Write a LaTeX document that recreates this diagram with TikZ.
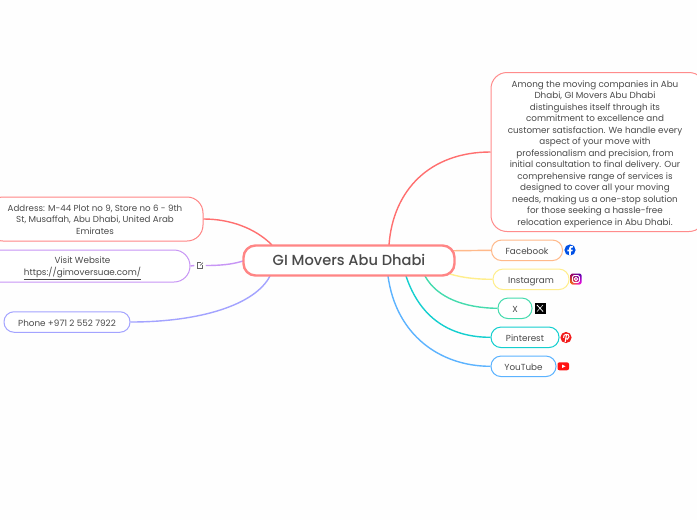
\documentclass[tikz,border=0pt]{standalone}
\usepackage{fontspec}
\setmainfont{Poppins}
\newfontfamily\titlefont{Poppins Medium}
\usetikzlibrary{calc,shadings}
\definecolor{txt}{HTML}{4A4A4A}
\definecolor{cred}{HTML}{FF6F6F}
\definecolor{corange}{HTML}{FFB98A}
\definecolor{cyellow}{HTML}{FFEE8C}
\definecolor{cgreen}{HTML}{45DBAE}
\definecolor{cteal}{HTML}{14CFCF}
\definecolor{cblue}{HTML}{5CB3FF}
\definecolor{cpurple}{HTML}{C795F5}
\definecolor{cviolet}{HTML}{A3A3FF}
\tikzset{
  topic/.style={draw,rounded corners=10pt,line width=1pt,fill=white,text=txt,align=center,inner sep=0pt,text height=8.4pt,text depth=0pt,font=\fontsize{8.8}{14.1}\selectfont},
  block/.style={draw,line width=1pt,fill=white,inner sep=0pt,rounded corners=16pt},
  blocktext/.style={text=txt,align=center,inner sep=0pt},
  rootnode/.style={draw=cred!85,rounded corners=12pt,line width=2.4pt,fill=white,text=txt,inner sep=0pt,minimum width=211pt,minimum height=30pt,font=\fontsize{14.6}{15}\titlefont},
  link/.style={line width=1.4pt},
  icon/.style={inner sep=0pt,minimum size=5.5pt,outer sep=3pt}
}
\begin{document}
\begin{tikzpicture}[x=1pt,y=-1pt]
\useasboundingbox (0,0) rectangle (697,520);
\fill[white!99.6!black] (0,0) rectangle (697,520);
\clip (0,0) rectangle (697,520);
% connector free ends on the central topic
\coordinate (mtl) at (389,245);
\coordinate (mbl) at (388,276);
\coordinate (mbp) at (406,276);
\coordinate (mbx) at (425,276);
\coordinate (mri) at (450,274);
\coordinate (mrf) at (453,250.7);
\coordinate (mta) at (272,245);
\coordinate (mlv) at (243,261);
\coordinate (mbh) at (270,276);
% nodes
\node[block,draw=cred!80,minimum width=214pt,minimum height=159pt] (about) at (598,152) {};
\node[blocktext,font=\fontsize{8.8}{11.5}\selectfont] at (595,154) {Among the moving companies in Abu\\Dhabi, GI Movers Abu Dhabi\\distinguishes itself through its\\commitment to excellence and\\customer satisfaction. We handle every\\aspect of your move with\\professionalism and precision, from\\initial consultation to final delivery. Our\\comprehensive range of services is\\designed to cover all your moving\\needs, making us a one-stop solution\\for those seeking a hassle-free\\relocation experience in Abu Dhabi.};
\node[topic,draw=corange,minimum width=71pt,minimum height=20.5pt] (fb) at (527,250.3) {Facebook};
\node[topic,draw=cyellow,minimum width=76pt,minimum height=20.5pt] (ig) at (531,279.3) {Instagram};
\node[topic,draw=cgreen,minimum width=34pt,minimum height=20.5pt] (xx) at (515,308.3) {X};
\node[topic,draw=cteal,minimum width=68pt,minimum height=20.5pt] (pin) at (525,337.3) {Pinterest};
\node[topic,draw=cblue,minimum width=65pt,minimum height=20.5pt] (yt) at (523.5,366.3) {YouTube};
\node[block,draw=cred!85,minimum width=216pt,minimum height=44pt] (addr) at (95,219) {};
\node[blocktext,font=\fontsize{8.7}{11.5}\selectfont] at (95,219.7) {Address: M-44 Plot no 9, Store no 6 - 9th\\St, Musaffah, Abu Dhabi, United Arab\\Emirates};
\node[block,draw=cpurple,minimum width=216pt,minimum height=32pt] (web) at (82,266) {};
\node[blocktext,font=\fontsize{8.8}{11.8}\selectfont] at (82.5,268) {Visit Website\\\underline{https://gimoversuae.com/}};
\node[topic,draw=cviolet,minimum width=126pt,minimum height=20.5pt] (ph) at (67,322) {Phone +971 2 552 7922};
% link icon
\node[icon,draw=txt!85,line width=.8pt] (lnk) at (200,265.5) {};
\fill[white] (201,262) rectangle (204,265);
\draw[txt!85,line width=.7pt] (200.2,265.3) -- (202.9,262.6);
% connectors
\draw[link,cred] (mtl) .. controls (393,190) and (430,152) .. (about.west);
\draw[link,corange] (mrf) .. controls (470,250.7) and (480,250.3) .. (fb.west);
\draw[link,cyellow] (mri) .. controls (463,278) and (478,279.3) .. (ig.west);
\draw[link,cgreen] (mbx) .. controls (437,298) and (465,308) .. (xx.west);
\draw[link,cteal] (mbp) .. controls (420,318) and (450,337.3) .. (pin.west);
\draw[link,cblue] (mbl) .. controls (396,335) and (440,366.3) .. (yt.west);
\draw[link,cred] (mta) .. controls (255,228) and (230,219) .. (addr.east);
\draw[link,cpurple] (mlv) .. controls (232,264.5) and (220,265.5) .. (lnk.east);
\draw[link,cpurple] (lnk.west) -- (web.east);
\draw[link,cviolet] (mbh) .. controls (255,305) and (200,322) .. (ph.east);
\node[rootnode] (main) at (349,260.5) {\raisebox{.5pt}{GI Movers Abu Dhabi}};
% social icons
\fill[blue!65!cyan!90!black] (570,250) circle (5.6);
\fill[white] (570.9,255.6) -- (570.9,251.4) -- (572.4,251.4) -- (572.7,249.6) -- (570.9,249.6) -- (570.9,248.4) .. controls (570.9,247.8) and (571.3,247.5) .. (571.9,247.5) -- (572.8,247.5) -- (572.8,246) .. controls (570.5,245.5) and (569,246.3) .. (569,248.3) -- (569,249.6) -- (567.4,249.6) -- (567.4,251.4) -- (569,251.4) -- (569,255.6) -- cycle;
\shade[rounded corners=2pt,lower left=orange,upper left=violet!80!red,upper right=violet!60!blue,lower right=magenta] (570.5,273.5) rectangle (581.5,284.5);
\draw[white,line width=.8pt,rounded corners=1.5pt] (572.5,275.5) rectangle (579.5,282.5);
\draw[white,line width=.8pt] (576,279) circle (1.8);
\fill[black] (534.5,302.5) rectangle (545.5,313.5);
\draw[white,line width=.8pt] (537,305) -- (543,311.5);
\draw[white,line width=.5pt] (543,305) -- (537,311.5);
\fill[red!85!pink!95!black] (566,337.5) circle (5.6);
\draw[white,line width=1.1pt] (565.2,342) -- (566.4,335);
\draw[white,line width=1pt] (563.6,337.8) .. controls (562.4,333.8) and (569.6,332.8) .. (569,336.8) .. controls (568.8,339.5) and (566,339.8) .. (565.6,338.6);
\fill[red!90!pink,rounded corners=2pt] (557.5,362.3) rectangle (569,370.3);
\fill[white] (562,364.5) -- (565.5,366.3) -- (562,368.1) -- cycle;
\end{tikzpicture}
\end{document}
